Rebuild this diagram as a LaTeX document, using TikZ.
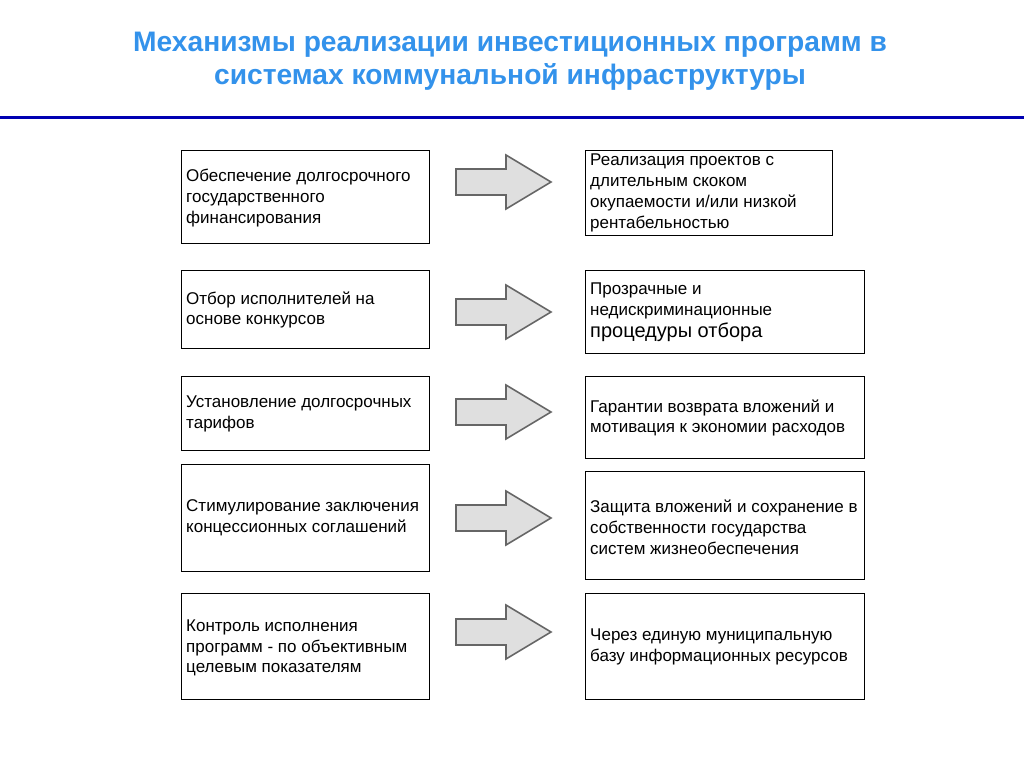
\documentclass[tikz,border=0pt]{standalone}
\usepackage{fontspec}
\setmainfont{Liberation Sans}
\definecolor{titleblue}{RGB}{51,146,235}
\begin{document}
\begin{tikzpicture}[x=1pt,y=-1pt,
  box/.style={draw=black,line width=0.8pt},
  txt/.style={anchor=west,align=left,inner sep=0pt,font=\fontsize{17}{20.8}\selectfont},
  arr/.style={draw=gray!80!black,fill=gray!25,line width=1.6pt}]
\useasboundingbox (0,0) rectangle (1024,768);
\node[font=\bfseries\fontsize{28.2}{33}\selectfont,text=titleblue,align=center] (title) at (510,61)
  {Механизмы реализации инвестиционных программ в\\системах коммунальной инфраструктуры};
\draw[line width=3pt,color=blue!70!black] (0,117) coordinate (l1) -- (1024,117) coordinate (l2);
% left boxes
\draw[box] (181,150) rectangle (429,243);
\draw[box] (181,270) rectangle (429,348);
\draw[box] (181,376) rectangle (429,450);
\draw[box] (181,464) rectangle (429,571);
\draw[box] (181,593) rectangle (429,699);
\node[txt] (a1) at (186,198) {Обеспечение долгосрочного\\государственного\\финансирования};
\node[txt] (a2) at (186,310) {Отбор исполнителей на\\основе конкурсов};
\node[txt] (a3) at (186,414) {Установление долгосрочных\\тарифов};
\node[txt] (a4) at (186,518) {Стимулирование заключения\\концессионных соглашений};
\node[txt] (a5) at (186,648) {Контроль исполнения\\программ - по объективным\\целевым показателям};
% right boxes
\draw[box] (585,150) rectangle (832,235);
\draw[box] (585,270) rectangle (864,353);
\draw[box] (585,376) rectangle (864,458);
\draw[box] (585,471) rectangle (864,579);
\draw[box] (585,593) rectangle (864,699);
\node[txt] (b1) at (590,193) {Реализация проектов с\\длительным скоком\\окупаемости и/или низкой\\рентабельностью};
\node[txt] (b2) at (590,312) {Прозрачные и\\недискриминационные\\[1pt]{\fontsize{20}{22}\selectfont процедуры отбора}};
\node[txt] (b3) at (590,418) {Гарантии возврата вложений и\\мотивация к экономии расходов};
\node[txt] (b4) at (590,527) {Защита вложений и сохранение в\\собственности государства\\систем жизнеобеспечения};
\node[txt] (b5) at (590,647) {Через единую муниципальную\\базу информационных ресурсов};
% arrows
\foreach \y in {182,312,412,518,632}{
  \draw[arr] (456,\y-13) -- (506,\y-13) -- (506,\y-27) -- (551,\y) -- (506,\y+27) -- (506,\y+13) -- (456,\y+13) -- cycle;
}
\end{tikzpicture}
\end{document}
